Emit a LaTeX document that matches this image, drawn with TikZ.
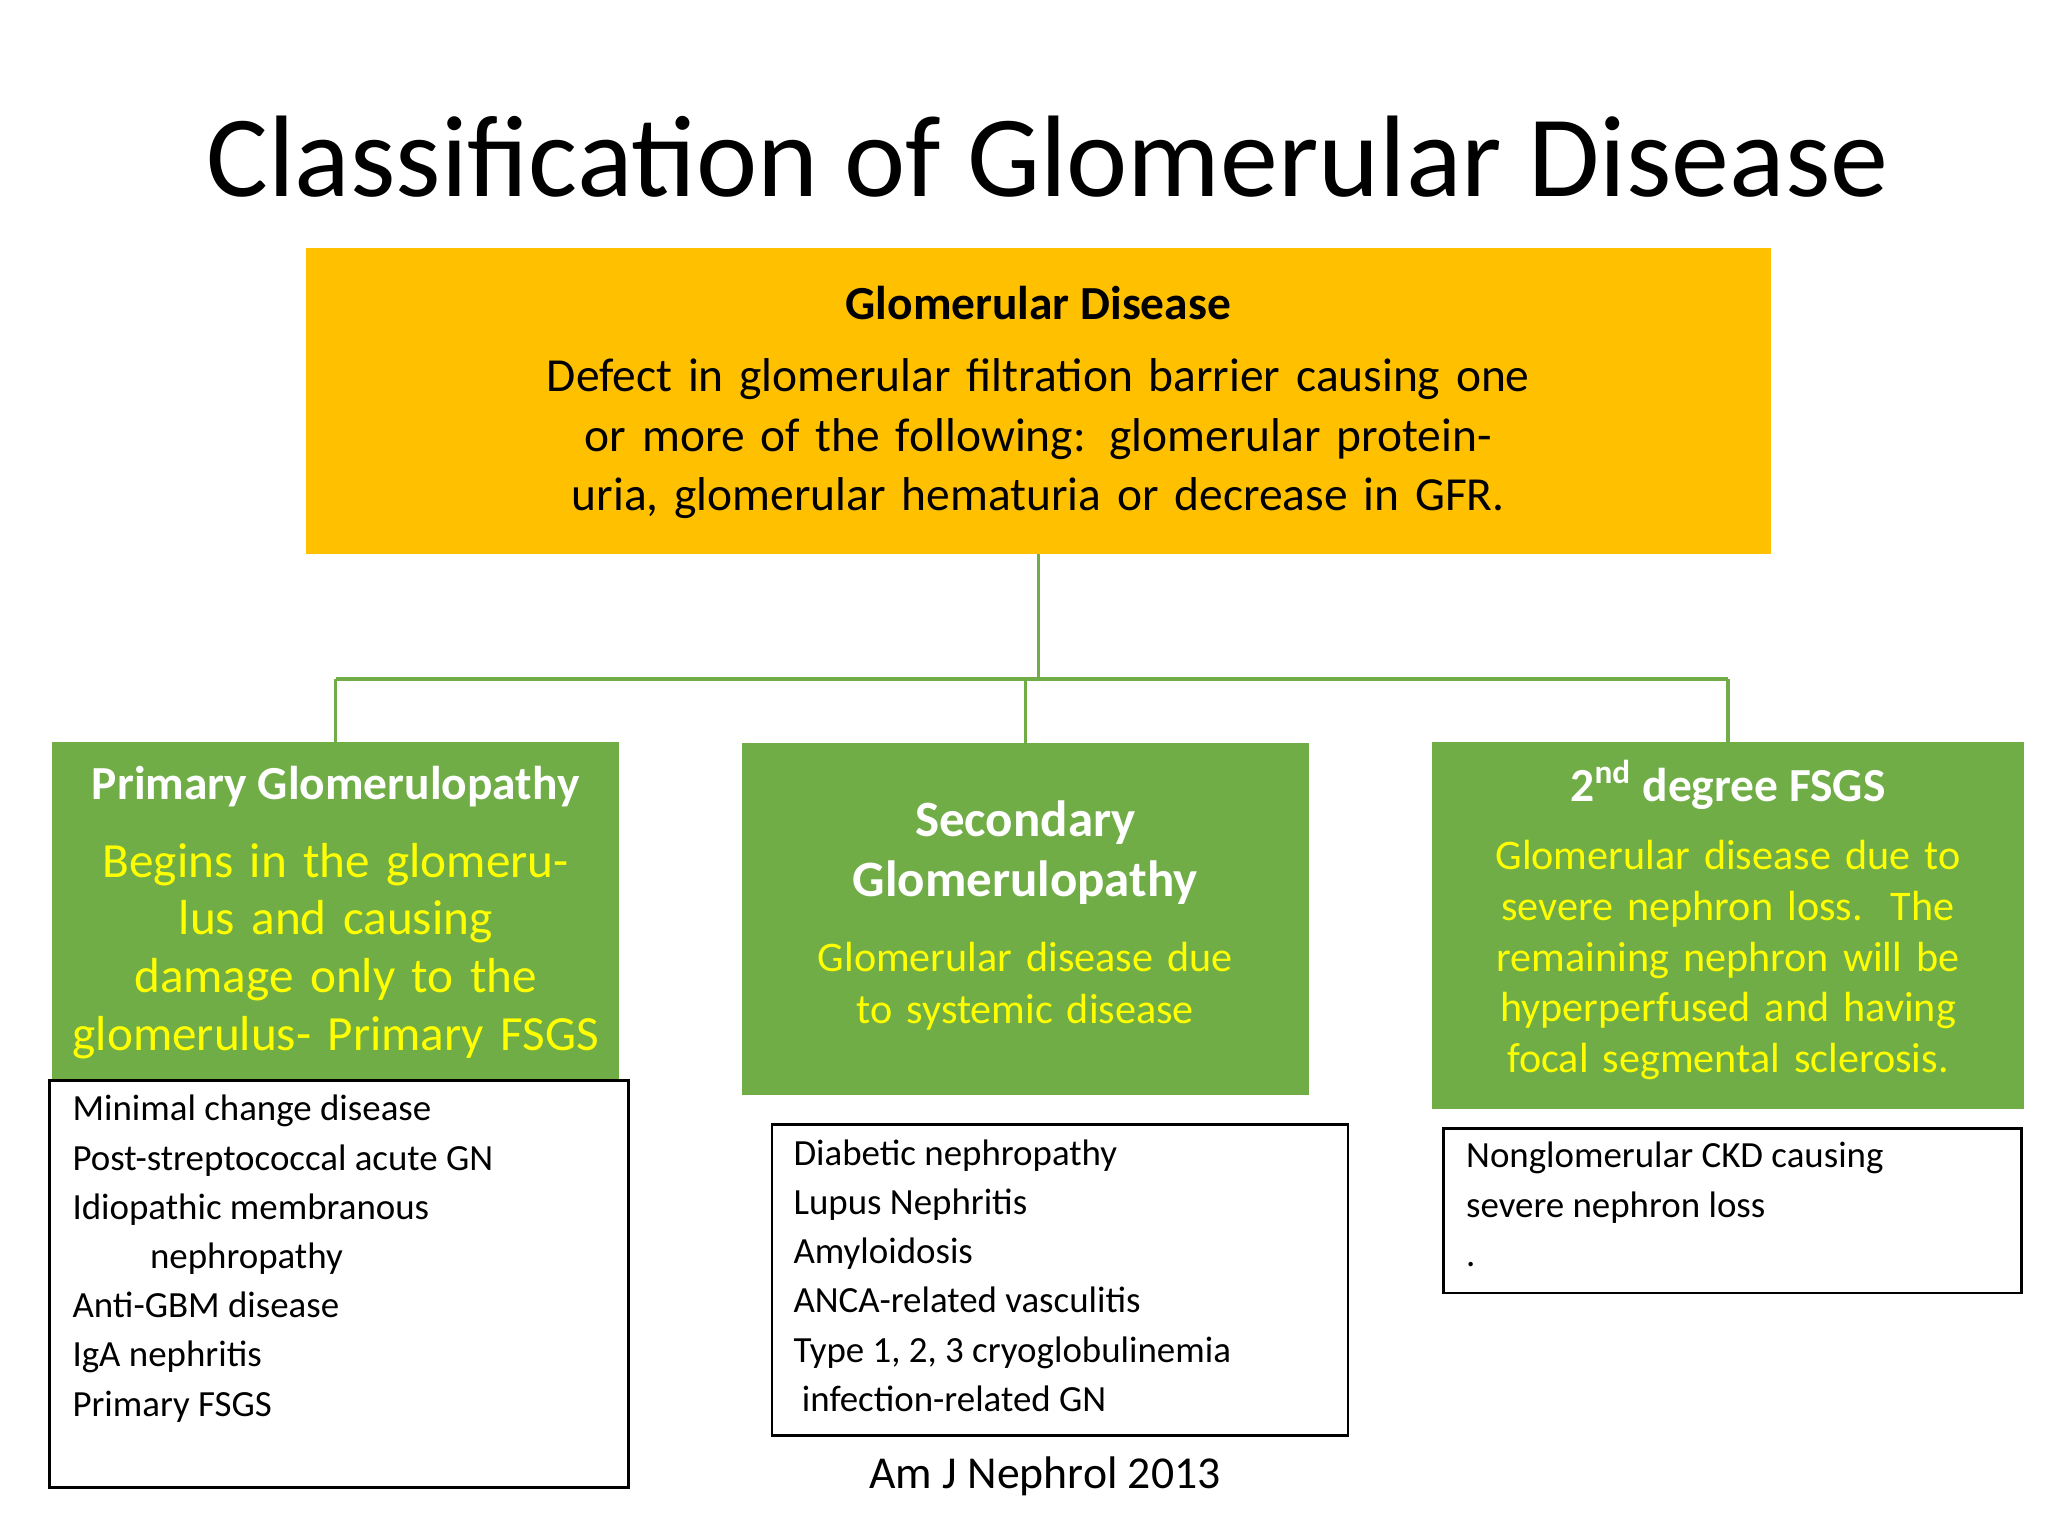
\documentclass[tikz,border=0pt]{standalone}
\usepackage{fontspec}
\setmainfont{Carlito}
\definecolor{gor}{HTML}{FFC000}
\definecolor{ggr}{HTML}{70AD47}
\definecolor{yel}{HTML}{FFFF00}
\begin{document}
\begin{tikzpicture}[x=0.01306cm,y=-0.01306cm,
  gbox/.style={fill=ggr,draw=none},
  wbox/.style={draw=black,line width=0.8pt,fill=white},
  conn/.style={draw=ggr,line width=1pt},
  txt/.style={inner sep=0pt,align=center}]
\useasboundingbox (0,0) rectangle (1568,1176);
\node[txt,font=\fontsize{33}{38}\selectfont] (title) at (802,120) {Classification of Glomerular Disease};
% orange
\fill[gor] (234,190) rectangle (1356,424);
\coordinate (otop) at (795,424);
\node[txt,font=\bfseries\fontsize{13.5}{16}\selectfont] (oh) at (795,232) {Glomerular Disease};
\node[txt,text width=1100*0.01306cm,font=\fontsize{13.5}{17}\selectfont] (ob) at (795,336) {Defect in glomerular filtration barrier causing one or more of the following: glomerular proteinuria, glomerular hematuria or decrease in GFR.};
% connectors
\coordinate (j) at (795,520);
\coordinate (jl) at (257,520);
\coordinate (jm) at (785,520);
\coordinate (jr) at (1323,520);
\coordinate (bl) at (257,568);
\coordinate (bm) at (785,569);
\coordinate (br) at (1323,568);
\draw[conn] (otop) -- (j);
\draw[conn] (jl) -- (jr);
\draw[conn] (jl) -- (bl);
\draw[conn] (jm) -- (bm);
\draw[conn] (jr) -- (br);
% green boxes
\fill[gbox] (40,568) rectangle (474,830);
\fill[gbox] (568,569) rectangle (1002,838);
\fill[gbox] (1096,568) rectangle (1550,849);
\node[txt,text=white,font=\bfseries\fontsize{13.5}{16}\selectfont] (lh) at (257,602) {Primary Glomerulopathy};
\node[txt,text=yel,text width=430*0.01306cm,font=\fontsize{14}{16.4}\selectfont] (lb) at (257,728) {Begins in the glomerulus and causing damage only to the glomerulus- Primary FSGS};
\node[txt,text=white,text width=420*0.01306cm,font=\bfseries\fontsize{14.5}{17}\selectfont] (mh) at (785,653) {Secondary\\Glomerulopathy};
\node[txt,text=yel,text width=420*0.01306cm,font=\fontsize{12}{15}\selectfont] (mb) at (785,755) {Glomerular disease due to systemic disease};
\node[txt,text=white,font=\bfseries\fontsize{13.5}{16}\selectfont] (rh) at (1323,601) {2\textsuperscript{nd} degree FSGS};
\node[txt,text=yel,text width=450*0.01306cm,font=\fontsize{12}{14.5}\selectfont] (rb) at (1323,735) {Glomerular disease due to severe nephron loss.\ \ The remaining nephron will be hyperperfused and having focal segmental sclerosis.};
% white boxes
\draw[wbox] (38,827) rectangle (481,1139);
\draw[wbox] (591,861) rectangle (1032,1099);
\draw[wbox] (1105,864) rectangle (1548,990);
\node[anchor=north west,inner sep=0pt,align=left,font=\fontsize{10.5}{14}\selectfont] (ll) at (55,838) {Minimal change disease\\Post-streptococcal acute GN\\Idiopathic membranous\\\hspace*{2.1em}nephropathy\\Anti-GBM disease\\IgA nephritis\\Primary FSGS};
\node[anchor=north west,inner sep=0pt,align=left,font=\fontsize{10.5}{14}\selectfont] (ml) at (607,872) {Diabetic nephropathy\\Lupus Nephritis\\Amyloidosis\\ANCA-related vasculitis\\Type 1, 2, 3 cryoglobulinemia\\\ infection-related GN};
\node[anchor=north west,inner sep=0pt,align=left,font=\fontsize{10.5}{14}\selectfont] (rl) at (1122,874) {Nonglomerular CKD causing\\severe nephron loss\\.};
\node[txt,font=\fontsize{13}{16}\selectfont] (cite) at (800,1130) {Am J Nephrol 2013};
\end{tikzpicture}
\end{document}
